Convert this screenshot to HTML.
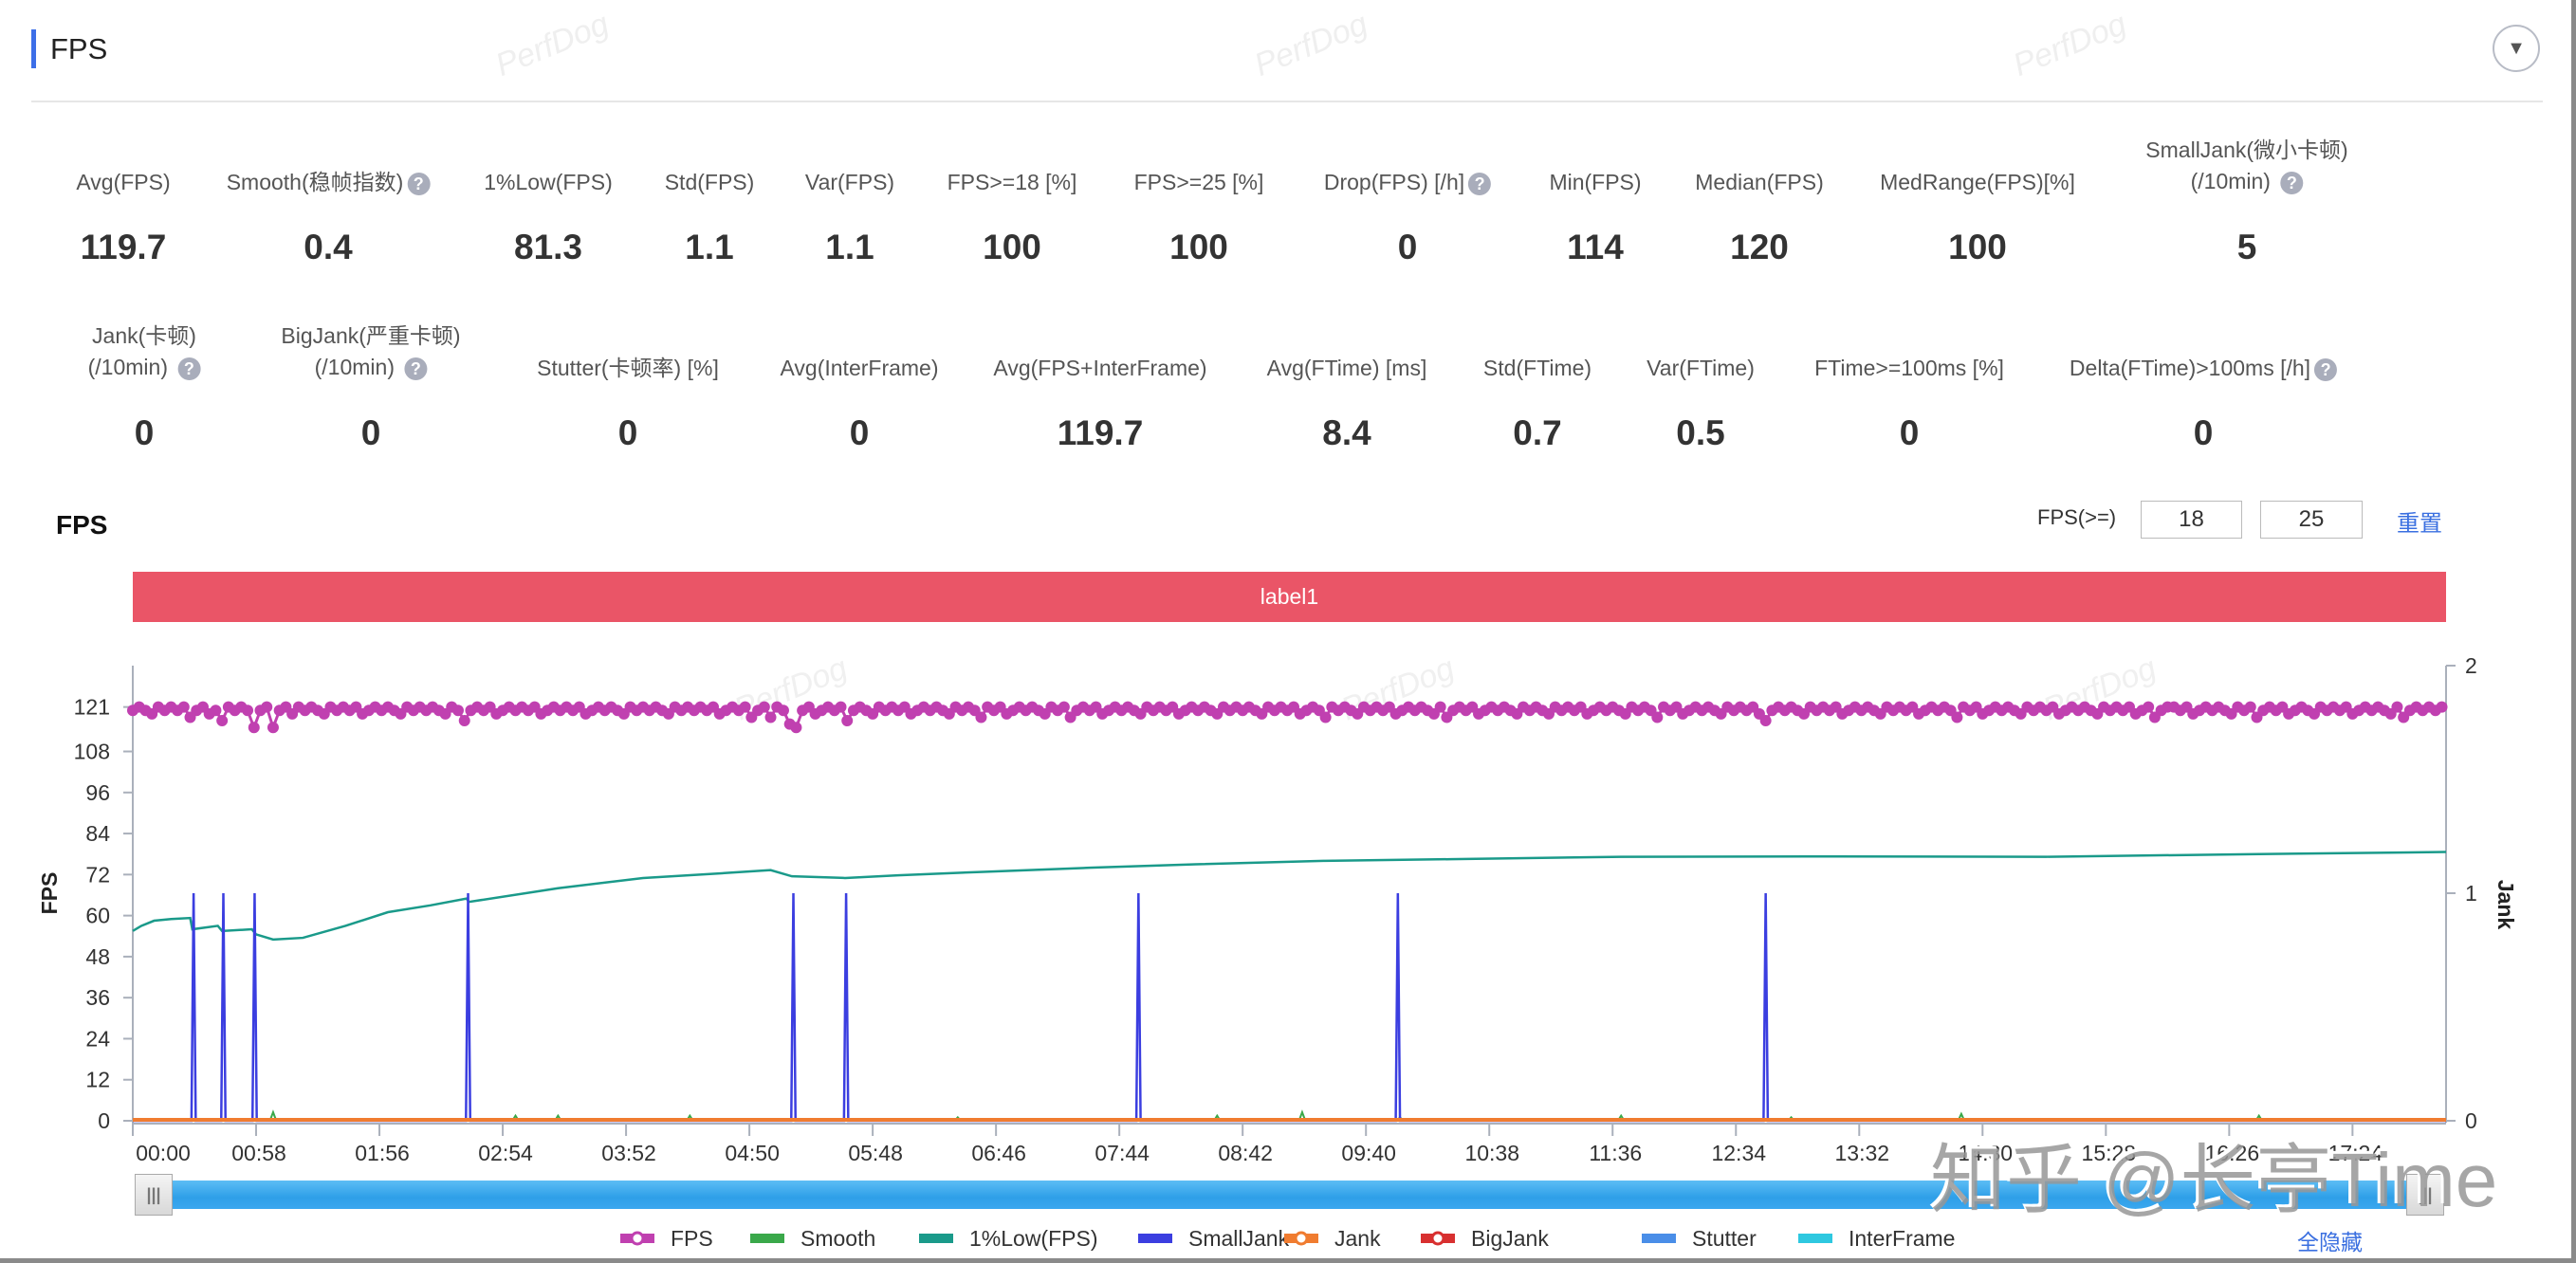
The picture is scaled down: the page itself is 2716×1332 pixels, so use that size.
<!DOCTYPE html>
<html><head><meta charset="utf-8">
<style>
body{margin:0;width:2716px;height:1332px;position:relative;background:#fff;overflow:hidden;font-family:"Liberation Sans","Noto Sans CJK SC",sans-serif;}
.abs{position:absolute}
.lbl{position:absolute;transform:translateX(-50%);font-size:23px;color:#555;white-space:nowrap;text-align:center;line-height:33px}
.val{position:absolute;transform:translateX(-50%);font-size:37px;font-weight:bold;color:#333;white-space:nowrap}
.q{display:inline-block;width:24px;height:24px;border-radius:50%;background:#a9adbb;color:#fff;font-size:18px;line-height:24px;text-align:center;font-weight:bold;vertical-align:middle;margin-left:4px}
.wm{position:absolute;color:#efefef;font-size:34px;font-style:italic;transform:rotate(-22deg)}
</style></head><body>
<div class="abs" style="right:0;top:0;width:5px;height:1332px;background:#8a8a8a"></div>
<div class="abs" style="left:0;bottom:0;width:2716px;height:5px;background:#8a8a8a"></div>

<div class="wm" style="left:520px;top:28px">PerfDog</div>
<div class="wm" style="left:1320px;top:28px">PerfDog</div>
<div class="wm" style="left:2120px;top:28px">PerfDog</div>

<div class="abs" style="left:33px;top:31px;width:5px;height:41px;background:#3d6fe8"></div>
<div class="abs" style="left:53px;top:34px;font-size:31px;color:#222">FPS</div>
<div class="abs" style="left:2628px;top:26px;width:50px;height:50px;border:2px solid #b8bcc6;border-radius:50%;box-sizing:border-box;text-align:center;line-height:46px;color:#555;font-size:20px">▼</div>
<div class="abs" style="left:33px;top:106px;width:2648px;height:2px;background:#e6e6e6"></div>

<!-- row 1 -->
<div class="lbl" style="left:130px;top:176px">Avg(FPS)</div>
<div class="val" style="left:130px;top:240px">119.7</div>
<div class="lbl" style="left:346px;top:176px">Smooth(稳帧指数)<span class="q">?</span></div>
<div class="val" style="left:346px;top:240px">0.4</div>
<div class="lbl" style="left:578px;top:176px">1%Low(FPS)</div>
<div class="val" style="left:578px;top:240px">81.3</div>
<div class="lbl" style="left:748px;top:176px">Std(FPS)</div>
<div class="val" style="left:748px;top:240px">1.1</div>
<div class="lbl" style="left:896px;top:176px">Var(FPS)</div>
<div class="val" style="left:896px;top:240px">1.1</div>
<div class="lbl" style="left:1067px;top:176px">FPS&gt;=18 [%]</div>
<div class="val" style="left:1067px;top:240px">100</div>
<div class="lbl" style="left:1264px;top:176px">FPS&gt;=25 [%]</div>
<div class="val" style="left:1264px;top:240px">100</div>
<div class="lbl" style="left:1484px;top:176px">Drop(FPS) [/h]<span class="q">?</span></div>
<div class="val" style="left:1484px;top:240px">0</div>
<div class="lbl" style="left:1682px;top:176px">Min(FPS)</div>
<div class="val" style="left:1682px;top:240px">114</div>
<div class="lbl" style="left:1855px;top:176px">Median(FPS)</div>
<div class="val" style="left:1855px;top:240px">120</div>
<div class="lbl" style="left:2085px;top:176px">MedRange(FPS)[%]</div>
<div class="val" style="left:2085px;top:240px">100</div>
<div class="lbl" style="left:2369px;top:142px">SmallJank(微小卡顿)<br>(/10min) <span class="q">?</span></div>
<div class="val" style="left:2369px;top:240px">5</div>

<!-- row 2 -->
<div class="lbl" style="left:152px;top:338px">Jank(卡顿)<br>(/10min) <span class="q">?</span></div>
<div class="val" style="left:152px;top:436px">0</div>
<div class="lbl" style="left:391px;top:338px">BigJank(严重卡顿)<br>(/10min) <span class="q">?</span></div>
<div class="val" style="left:391px;top:436px">0</div>
<div class="lbl" style="left:662px;top:372px">Stutter(卡顿率) [%]</div>
<div class="val" style="left:662px;top:436px">0</div>
<div class="lbl" style="left:906px;top:372px">Avg(InterFrame)</div>
<div class="val" style="left:906px;top:436px">0</div>
<div class="lbl" style="left:1160px;top:372px">Avg(FPS+InterFrame)</div>
<div class="val" style="left:1160px;top:436px">119.7</div>
<div class="lbl" style="left:1420px;top:372px">Avg(FTime) [ms]</div>
<div class="val" style="left:1420px;top:436px">8.4</div>
<div class="lbl" style="left:1621px;top:372px">Std(FTime)</div>
<div class="val" style="left:1621px;top:436px">0.7</div>
<div class="lbl" style="left:1793px;top:372px">Var(FTime)</div>
<div class="val" style="left:1793px;top:436px">0.5</div>
<div class="lbl" style="left:2013px;top:372px">FTime&gt;=100ms [%]</div>
<div class="val" style="left:2013px;top:436px">0</div>
<div class="lbl" style="left:2323px;top:372px">Delta(FTime)&gt;100ms [/h]<span class="q">?</span></div>
<div class="val" style="left:2323px;top:436px">0</div>

<!-- chart header -->
<div class="abs" style="left:59px;top:538px;font-size:28px;font-weight:bold;color:#111">FPS</div>
<div class="abs" style="left:2148px;top:533px;font-size:22px;color:#333">FPS(&gt;=)</div>
<div class="abs" style="left:2257px;top:528px;width:107px;height:40px;border:1px solid #bbb;box-sizing:border-box;text-align:center;line-height:38px;font-size:24px;color:#333">18</div>
<div class="abs" style="left:2383px;top:528px;width:108px;height:40px;border:1px solid #bbb;box-sizing:border-box;text-align:center;line-height:38px;font-size:24px;color:#333">25</div>
<div class="abs" style="left:2527px;top:532px;font-size:24px;color:#3a6fe0">重置</div>

<div class="abs" style="left:140px;top:603px;width:2439px;height:53px;background:#ea5567;color:#fff;font-size:23px;text-align:center;line-height:53px">label1</div>

<svg id="chart" class="abs" style="left:0;top:0" width="2716" height="1332" xmlns="http://www.w3.org/2000/svg"></svg>

<div class="abs" style="left:142px;top:1245px;width:2435px;height:30px;background:linear-gradient(#5cbdf5,#2e9fe8 60%,#3aa7ef);"></div>
<div class="abs" style="left:142px;top:1238px;width:40px;height:44px;background:linear-gradient(#f4f4f4,#d8d8d8);border:1px solid #aaa;box-sizing:border-box;text-align:center;line-height:42px;color:#777;font-size:18px;font-weight:bold">|||</div>
<div class="abs" style="left:2537px;top:1238px;width:40px;height:44px;background:linear-gradient(#f4f4f4,#d8d8d8);border:1px solid #aaa;box-sizing:border-box;text-align:center;line-height:42px;color:#777;font-size:18px;font-weight:bold">|||</div>

<div class="abs" style="left:2035px;top:1180px;font-size:80px;color:rgba(150,150,150,0.85);white-space:nowrap;text-shadow:-3px -3px 0 #fff">知乎 @长亭Time</div>

<div class="abs" style="left:2422px;top:1291px;font-size:23px;color:#3a6fe0">全隐藏</div>

<script>
const xMax = 1088;
const fpsMax = 133.1;
const jankMax = 2;
const fpsTicks = [0,12,24,36,48,60,72,84,96,108,121];
const jankTicks = [0,1,2];
const timeTickSeconds = [0,58,116,174,232,290,348,406,464,522,580,638,696,754,812,870,928,986,1044];
const timeTickLabels = ["00:00","00:58","01:56","02:54","03:52","04:50","05:48","06:46","07:44","08:42","09:40","10:38","11:36","12:34","13:32","14:30","15:28","16:26","17:24"];
const fpsInterval = 3;
const fpsValues = [
120,121,120,119,121,120,121,120,121,118,120,121,119,120,117,121,120,121,120,115,
120,121,115,120,121,119,121,120,121,120,119,121,120,121,120,121,119,120,121,120,
121,120,119,121,120,121,120,121,120,119,121,120,117,120,121,120,121,119,120,121,
120,121,120,121,119,120,121,120,121,120,121,119,120,121,120,121,120,119,121,120,
121,120,121,120,119,121,120,121,120,121,120,121,119,120,121,120,121,118,120,121,
118,121,120,116,115,120,121,119,120,121,120,121,117,120,121,120,119,121,120,121,
120,121,119,120,121,120,121,120,119,121,120,121,120,118,121,120,121,119,120,121,
120,121,120,119,121,120,121,118,120,121,120,121,119,120,121,120,121,120,119,121,
120,121,120,121,119,120,121,120,121,120,119,121,120,121,120,121,120,119,121,120,
121,120,121,119,120,121,120,118,121,120,121,120,119,121,120,121,120,121,119,120,
121,120,121,120,119,121,118,120,121,120,121,119,120,121,120,121,120,119,121,120,
121,120,119,121,120,121,120,121,119,120,121,120,121,120,119,121,120,121,120,118,
121,120,121,119,120,121,120,121,120,119,121,120,121,120,121,119,117,120,121,120,
121,120,119,121,120,121,120,121,119,120,121,120,121,120,119,121,120,121,120,121,
119,120,121,120,121,120,118,121,120,121,119,120,121,120,121,120,119,121,120,121,
120,121,119,120,121,120,121,120,119,121,120,121,120,121,119,120,121,118,120,121,
121,120,121,119,120,121,120,121,120,119,121,120,121,118,120,121,120,121,119,120,
121,120,119,121,120,121,120,121,119,120,121,120,121,120,119,121,118,120,121,120,
121,120,121];
const lowTimes = [0,4,10,18,27,28,40,42,56,58,66,80,100,120,140,157,158,200,240,280,300,310,335,360,400,450,500,560,620,700,800,900,1000,1088];
const lowValues = [55.5,57,58.5,59,59.3,56,57,55.5,56,54.5,53,53.5,57,61,63,65,64,68,71,72.5,73.3,71.5,71,71.8,72.8,74,75,76,76.5,77.2,77.3,77.2,78,78.6];
const smallJankTimes = [28.6,42.6,57.3,157.7,310.7,335.5,473,595,768];
const smallJankValues = [1,1,1,1,1,1,1,1,1];
const smoothTimes = [66,180,200,262,388,510,550,596,700,780,860,1000];
const smoothValues = [2.5,1.5,1.5,1.5,1,1.5,2.5,1,1.5,1,2,1.5];
const jankValue = 0;

const X0=140, X1=2579, Y0=1182, Y1=702;
const sx = t => X0 + (t/xMax)*(X1-X0);
const syF = v => Y0 - (v/fpsMax)*(Y0-Y1);
const syJ = v => Y0 - (v/jankMax)*(Y0-Y1);
const svg = document.getElementById('chart');
const NS = 'http://www.w3.org/2000/svg';
function mk(tag, attrs){const e=document.createElementNS(NS,tag);for(const k in attrs)e.setAttribute(k,attrs[k]);svg.appendChild(e);return e;}

[[780,760],[1420,760],[2160,760]].forEach(p=>{
  const w=mk('text',{x:p[0],y:p[1],'font-size':34,'font-style':'italic',fill:'#f0f0f0',transform:`rotate(-22 ${p[0]} ${p[1]})`,'font-family':'Liberation Sans'});
  w.textContent='PerfDog';
  
  
});

const la=mk('line',{x1:X0,y1:Y1,x2:X0,y2:Y0+14,stroke:'#aab0bb','stroke-width':2});


const ra=mk('line',{x1:X1,y1:Y1,x2:X1,y2:Y0+2,stroke:'#aab0bb','stroke-width':2});


const xa=mk('line',{x1:X0,y1:Y0+3,x2:X1,y2:Y0+3,stroke:'#aab0bb','stroke-width':2});



fpsTicks.forEach(v=>{
  const y=syF(v);
  const tk=mk('line',{x1:X0-10,y1:y,x2:X0,y2:y,stroke:'#aab0bb','stroke-width':2});
  
  
  const t=mk('text',{x:X0-24,y:y+8,'text-anchor':'end','font-size':23,fill:'#333','font-family':'Liberation Sans'});
  t.textContent=v;
  
  
});
jankTicks.forEach(v=>{
  const y=syJ(v);
  const tk=mk('line',{x1:X1,y1:y,x2:X1+10,y2:y,stroke:'#aab0bb','stroke-width':2});
  
  
  const t=mk('text',{x:X1+20,y:y+8,'font-size':23,fill:'#333','font-family':'Liberation Sans'});
  t.textContent=v;
  
  
});
timeTickSeconds.forEach((s,i)=>{
  const x=sx(s);
  const tk=mk('line',{x1:x,y1:Y0+3,x2:x,y2:Y0+16,stroke:'#aab0bb','stroke-width':2});
  
  
  const t=mk('text',{x:i===0?x+32:x+3,y:Y0+42,'text-anchor':'middle','font-size':23,fill:'#333','font-family':'Liberation Sans'});
  t.textContent=timeTickLabels[i];
  
  
});
const yt=mk('text',{x:0,y:0,'font-size':23,'font-weight':'bold',fill:'#222','text-anchor':'middle',transform:`translate(60 ${(Y0+Y1)/2}) rotate(-90)`,'font-family':'Liberation Sans'});
yt.textContent='FPS';


const jt=mk('text',{x:0,y:0,'font-size':23,'font-weight':'bold',fill:'#222','text-anchor':'middle',transform:`translate(2634 ${syJ(1)+12}) rotate(90)`,'font-family':'Liberation Sans'});
jt.textContent='Jank';



{
  let d=`M${sx(0)},${syF(0)}`;
  smoothTimes.forEach((t,i)=>{d+=` L${sx(t-1.5)},${syF(0)} L${sx(t)},${syF(smoothValues[i])} L${sx(t+1.5)},${syF(0)}`;});
  d+=` L${sx(xMax)},${syF(0)}`;
  const p=mk('path',{d,fill:'none',stroke:'#3aa84a','stroke-width':2});
  
  
}
{
  const d=lowTimes.map((t,i)=>(i?'L':'M')+sx(t)+','+syF(lowValues[i])).join(' ');
  const p=mk('path',{d,fill:'none',stroke:'#1a9a8a','stroke-width':2.5});
  
  
}
{
  let d=`M${sx(0)},${syJ(0)}`;
  smallJankTimes.forEach((t,i)=>{d+=` L${sx(t-1)},${syJ(0)} L${sx(t)},${syJ(smallJankValues[i])} L${sx(t+1)},${syJ(0)}`;});
  d+=` L${sx(xMax)},${syJ(0)}`;
  const p=mk('path',{d,fill:'none',stroke:'#3b3ee0','stroke-width':2.5});
  
  
}
{
  const p=mk('line',{x1:sx(0),y1:syJ(jankValue)-1,x2:sx(xMax),y2:syJ(jankValue)-1,stroke:'#f07c30','stroke-width':4});
  
  
}
{
  const pts=[];
  fpsValues.forEach((v,i)=>{const t=i*fpsInterval;if(t<=xMax)pts.push([sx(t),syF(v)]);});
  const p=mk('path',{d:pts.map((q,i)=>(i?'L':'M')+q[0]+','+q[1]).join(' '),fill:'none',stroke:'#c040b0','stroke-width':3});
  
  
  pts.forEach(q=>{
    const c=mk('circle',{cx:q[0],cy:q[1],r:6,fill:'#c040b0'});
    
    
  });
}

const legendNames=['FPS','Smooth','1%Low(FPS)','SmallJank','Jank','BigJank','Stutter','InterFrame'];
const legendColors=['#c040b0','#3aa84a','#1a9a8a','#3b3ee0','#f07c30','#d83030','#4a8ee8','#2ec8e0'];
const legendX=[672,809,987,1218,1372,1516,1749,1914];
legendNames.forEach((n,i)=>{
  const x=legendX[i], y=1306;
  const g=document.createElementNS(NS,'g');
  
  
  svg.appendChild(g);
  const r=document.createElementNS(NS,'rect');
  r.setAttribute('x',x-18);r.setAttribute('y',y-5);r.setAttribute('width',36);r.setAttribute('height',10);r.setAttribute('fill',legendColors[i]);
  g.appendChild(r);
  if(i===0||i===4||i===5){
    const c=document.createElementNS(NS,'circle');
    c.setAttribute('cx',x);c.setAttribute('cy',y);c.setAttribute('r',6);c.setAttribute('fill','#fff');c.setAttribute('stroke',legendColors[i]);c.setAttribute('stroke-width',3);
    g.appendChild(c);
  }
  const t=document.createElementNS(NS,'text');
  t.setAttribute('x',x+35);t.setAttribute('y',y+8);t.setAttribute('font-size',23);t.setAttribute('fill','#333');t.setAttribute('font-family','Liberation Sans');
  t.textContent=n;
  g.appendChild(t);
});
</script>
</body></html>
